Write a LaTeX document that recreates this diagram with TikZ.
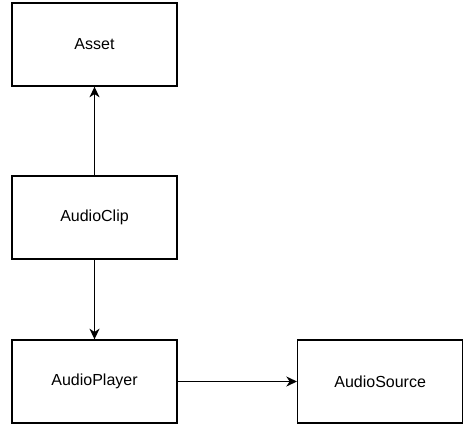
\documentclass[tikz,border=0pt]{standalone}
\usepackage{fontspec}
\setmainfont{Liberation Sans}
\usetikzlibrary{arrows.meta,positioning}
\tikzset{>={Stealth[length=8pt,width=7.5pt,inset=2.5pt]},auto}
\tikzset{classbox/.style={draw,line width=1pt,minimum width=123.75pt,minimum height=62.25pt,font=\fontsize{12}{14}\selectfont}}

\begin{document}
\begin{tikzpicture}[line width=1pt]
    \useasboundingbox (0,0) rectangle (355.5pt,-329.25pt);

    \node[classbox] (asset) at (70.875pt,-33.375pt) {Asset};
    \node[classbox] (clip) [below=66.5pt of asset] {AudioClip};
    \node[classbox] (player) [below=59.75pt of clip] {AudioPlayer};
    \node[classbox] (source) [right=89.5pt of player] {AudioSource};
    \draw[->] (clip) -- (asset);
    \draw[->] (clip) -- (player);
    \draw[->] (player) -- (source);
\end{tikzpicture}
\end{document}
